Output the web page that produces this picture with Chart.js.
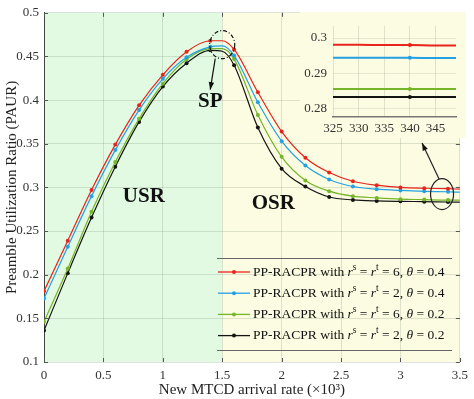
<!DOCTYPE html>
<html>
<head>
<meta charset="utf-8">
<script src="https://cdn.jsdelivr.net/npm/chart.js@4.4.0/dist/chart.umd.min.js"></script>
<style>
  html, body { margin: 0; padding: 0; background: #fff; }
  #wrap { position: relative; width: 474px; height: 399px; }
  #mainChart { position: absolute; left: 0; top: 0; }
  #insetChart { position: absolute; left: 300px; top: 12px; background: rgb(252, 252, 226); }
</style>
</head>
<body>
<div id="wrap">
  <canvas id="mainChart" width="474" height="399"></canvas>
  <canvas id="insetChart" width="166" height="126"></canvas>
</div>
<script>
// new MTCD arrival rate (x10^3)
const rates = [0, 0.2, 0.4, 0.6, 0.8, 1.0, 1.2, 1.4, 1.5, 1.6, 1.8, 2.0, 2.2, 2.4, 2.6, 2.8, 3.0, 3.2, 3.4, 3.5];

// PAUR per configuration
const paurR6T04 = [0.181, 0.239, 0.297, 0.349, 0.394, 0.429, 0.4555, 0.468, 0.468, 0.458, 0.409, 0.364, 0.334, 0.317, 0.307, 0.3025, 0.300, 0.299, 0.2985, 0.298];
const paurR2T04 = [0.1727, 0.232, 0.290, 0.3427, 0.3886, 0.4244, 0.449, 0.461, 0.462, 0.451, 0.3975, 0.353, 0.325, 0.309, 0.301, 0.298, 0.2965, 0.2955, 0.295, 0.2945];
const paurR6T02 = [0.146, 0.207, 0.272, 0.329, 0.3785, 0.4188, 0.4468, 0.459, 0.459, 0.447, 0.383, 0.335, 0.308, 0.2957, 0.290, 0.288, 0.2865, 0.286, 0.2855, 0.2855];
const paurR2T02 = [0.136, 0.2018, 0.2655, 0.3237, 0.375, 0.4155, 0.4423, 0.457, 0.456, 0.44, 0.3685, 0.3215, 0.301, 0.289, 0.2857, 0.2845, 0.284, 0.2837, 0.2833, 0.2832];

// zoomed inset
const insetRates = [325, 330, 335, 340, 345, 349];
const insetR6T04 = [0.2981, 0.2981, 0.2980, 0.2980, 0.2979, 0.2979];
const insetR2T04 = [0.2944, 0.2944, 0.2944, 0.2944, 0.2943, 0.2943];
const insetR6T02 = [0.2855, 0.2855, 0.2855, 0.2855, 0.2855, 0.2855];
const insetR2T02 = [0.2832, 0.2832, 0.2832, 0.2832, 0.2832, 0.2832];

// legend parameters
const rValues = [6, 2, 6, 2];
const thetaValues = [0.4, 0.4, 0.2, 0.2];
const colors = ['rgb(232, 36, 28)', 'rgb(36, 160, 228)', 'rgb(118, 180, 40)', 'rgb(20, 20, 20)'];

const usrEnd = 1.5;
const serif = '"Liberation Serif", "Times New Roman", serif';

function isMarker(x) {
  return Math.abs(x * 5 - Math.round(x * 5)) < 1e-6;
}

function makeDataset(xs, values, color, width, markerTest) {
  return {
    data: xs.map((x, i) => ({ x, y: values[i] })),
    borderColor: color,
    backgroundColor: color,
    borderWidth: width,
    pointRadius: ctx => (ctx.parsed && markerTest(ctx.parsed.x) ? 2 : 0),
    pointHoverRadius: 0,
    pointBorderWidth: 0,
    cubicInterpolationMode: 'monotone',
    fill: false,
  };
}

function drawArrow(ctx, x1, y1, x2, y2) {
  const ang = Math.atan2(y2 - y1, x2 - x1);
  ctx.beginPath();
  ctx.moveTo(x1, y1);
  ctx.lineTo(x2, y2);
  ctx.stroke();
  ctx.beginPath();
  ctx.moveTo(x2, y2);
  ctx.lineTo(x2 - 8 * Math.cos(ang - 0.35), y2 - 8 * Math.sin(ang - 0.35));
  ctx.lineTo(x2 - 8 * Math.cos(ang + 0.35), y2 - 8 * Math.sin(ang + 0.35));
  ctx.closePath();
  ctx.fill();
}

function drawLegendRow(ctx, x, y, r, theta) {
  const normal = '13.5px ' + serif;
  const italic = 'italic 13.5px ' + serif;
  const sup = '9.5px ' + serif;
  const parts = [
    ['PP-RACPR with ', normal, 0],
    ['r', italic, 0], ['s', sup, -5],
    [' = ', normal, 0],
    ['r', italic, 0], ['t', sup, -5],
    [' = ' + r + ', ', normal, 0],
    ['\u03B8', italic, 0],
    [' = ' + theta, normal, 0],
  ];
  let cx = x;
  for (const [txt, font, dy] of parts) {
    ctx.font = font;
    ctx.fillText(txt, cx, y + dy);
    cx += ctx.measureText(txt).width;
  }
}

const regionPlugin = {
  id: 'regions',
  beforeDraw(chart) {
    const { ctx, chartArea: a, scales: { x } } = chart;
    const split = x.getPixelForValue(usrEnd);
    ctx.save();
    ctx.fillStyle = 'rgb(226, 249, 226)';
    ctx.fillRect(a.left, a.top, split - a.left, a.bottom - a.top);
    ctx.fillStyle = 'rgb(252, 252, 226)';
    ctx.fillRect(split, a.top, a.right - split, a.bottom - a.top);
    ctx.restore();
  },
  afterDatasetsDraw(chart) {
    const { ctx, chartArea: a, scales: { x, y } } = chart;
    ctx.save();
    ctx.strokeStyle = '#555';
    ctx.lineWidth = 1;
    x.ticks.forEach(t => {
      const px = Math.round(x.getPixelForValue(t.value)) + 0.5;
      ctx.beginPath();
      ctx.moveTo(px, a.bottom); ctx.lineTo(px, a.bottom - 4);
      ctx.moveTo(px, a.top); ctx.lineTo(px, a.top + 4);
      ctx.stroke();
    });
    y.ticks.forEach(t => {
      const py = Math.round(y.getPixelForValue(t.value)) + 0.5;
      ctx.beginPath();
      ctx.moveTo(a.left, py); ctx.lineTo(a.left + 4, py);
      ctx.moveTo(a.right, py); ctx.lineTo(a.right - 4, py);
      ctx.stroke();
    });
    ctx.restore();
  },
  afterDraw(chart) {
    const { ctx, scales: { x, y } } = chart;
    ctx.save();
    // region labels
    ctx.fillStyle = '#111';
    ctx.textAlign = 'center';
    ctx.textBaseline = 'middle';
    ctx.font = 'bold 21px ' + serif;
    ctx.fillText('USR', x.getPixelForValue(0.84), y.getPixelForValue(0.29));
    ctx.fillText('OSR', x.getPixelForValue(1.93), y.getPixelForValue(0.281));
    ctx.fillText('SP', x.getPixelForValue(1.4), y.getPixelForValue(0.3987));

    // switching point marker
    const spx = x.getPixelForValue(1.5), spy = y.getPixelForValue(0.4635);
    ctx.strokeStyle = '#111';
    ctx.lineWidth = 1.2;
    ctx.setLineDash([4, 2, 1, 2]);
    ctx.beginPath();
    ctx.ellipse(spx, spy, 12.5, 14, 0, 0, Math.PI * 2);
    ctx.stroke();
    ctx.setLineDash([]);
    ctx.fillStyle = '#111';
    drawArrow(ctx, spx - 7, spy + 14, spx - 12, spy + 45);

    // zoom ellipse + arrow to inset
    const ex = x.getPixelForValue(3.35), ey = y.getPixelForValue(0.2924);
    ctx.strokeStyle = '#222';
    ctx.beginPath();
    ctx.ellipse(ex, ey, 11.5, 15.5, 0, 0, Math.PI * 2);
    ctx.stroke();
    drawArrow(ctx, ex - 3, ey - 15, ex - 20, ey - 51);

    // legend
    const lx1 = 217, lx2 = 452, ly1 = 258, ly2 = 350;
    ctx.strokeStyle = '#666';
    ctx.lineWidth = 1.2;
    ctx.beginPath();
    ctx.moveTo(lx1, ly1 + 0.5); ctx.lineTo(lx2, ly1 + 0.5);
    ctx.moveTo(lx1, ly2 + 0.5); ctx.lineTo(lx2, ly2 + 0.5);
    ctx.stroke();
    ctx.textAlign = 'left';
    ctx.textBaseline = 'middle';
    colors.forEach((c, i) => {
      const ry = 272 + i * 21.2;
      ctx.strokeStyle = c;
      ctx.fillStyle = c;
      ctx.lineWidth = 1.3;
      ctx.beginPath();
      ctx.moveTo(218, ry); ctx.lineTo(250, ry);
      ctx.stroke();
      ctx.beginPath();
      ctx.arc(234, ry, 2, 0, Math.PI * 2);
      ctx.fill();
      ctx.fillStyle = '#111';
      drawLegendRow(ctx, 253, ry, rValues[i], thetaValues[i]);
    });
    ctx.restore();
  }
};

const paurSeries = [paurR6T04, paurR2T04, paurR6T02, paurR2T02];

new Chart(document.getElementById('mainChart').getContext('2d'), {
  type: 'line',
  data: {
    datasets: paurSeries.map((vals, i) => makeDataset(rates, vals, colors[i], 1.2, isMarker)),
  },
  options: {
    responsive: false,
    animation: false,
    events: [],
    layout: { padding: { top: 4, right: 10, left: 0, bottom: 0 } },
    plugins: { legend: { display: false }, tooltip: { enabled: false } },
    scales: {
      x: {
        type: 'linear',
        min: 0,
        max: 3.5,
        afterFit: s => { s.height = 37; },
        ticks: {
          stepSize: 0.5,
          padding: 6,
          maxRotation: 0,
          color: '#333',
          font: { family: serif, size: 13 },
          callback: v => String(Number(v.toFixed(2))),
        },
        grid: { color: 'rgba(110, 130, 110, 0.22)', drawTicks: false },
        border: { display: false },
        title: {
          display: true,
          text: 'New MTCD arrival rate (\u00D710\u00B3)',
          color: '#222',
          font: { family: serif, size: 15 },
          padding: { top: 0, bottom: 0 },
        },
      },
      y: {
        min: 0.1,
        max: 0.5,
        afterFit: s => { s.width = 44; },
        ticks: {
          stepSize: 0.05,
          padding: 5,
          color: '#333',
          font: { family: serif, size: 13 },
          callback: v => String(Number(v.toFixed(2))),
        },
        grid: { color: 'rgba(110, 130, 110, 0.22)', drawTicks: false },
        border: { display: true, color: '#444', width: 1 },
        title: {
          display: true,
          text: 'Preamble Utilization Ratio (PAUR)',
          color: '#222',
          font: { family: serif, size: 15 },
          padding: { top: 3, bottom: 0 },
        },
      },
    },
  },
  plugins: [regionPlugin],
});

const insetSeries = [insetR6T04, insetR2T04, insetR6T02, insetR2T02];

new Chart(document.getElementById('insetChart').getContext('2d'), {
  type: 'line',
  data: {
    datasets: insetSeries.map((vals, i) => makeDataset(insetRates, vals, colors[i], 2, v => v === 340)),
  },
  options: {
    responsive: false,
    animation: false,
    events: [],
    layout: { padding: { top: 11, right: 10, left: 0, bottom: 0 } },
    plugins: { legend: { display: false }, tooltip: { enabled: false } },
    scales: {
      x: {
        type: 'linear',
        min: 325,
        max: 349,
        afterFit: s => { s.height = 21; },
        ticks: {
          stepSize: 5,
          includeBounds: false,
          padding: 4,
          maxRotation: 0,
          color: '#333',
          font: { family: serif, size: 13 },
        },
        grid: { color: 'rgba(0, 0, 0, 0.1)', drawTicks: false },
        border: { display: true, color: '#777', width: 1.5 },
      },
      y: {
        min: 0.2775,
        max: 0.3035,
        afterFit: s => { s.width = 33; },
        ticks: {
          stepSize: 0.01,
          includeBounds: false,
          padding: 6,
          color: '#333',
          font: { family: serif, size: 13 },
          callback: v => String(Number(v.toFixed(2))),
        },
        grid: { color: 'rgba(0, 0, 0, 0.08)', drawTicks: false },
        border: { display: false },
      },
    },
  },
});
</script>
</body>
</html>
